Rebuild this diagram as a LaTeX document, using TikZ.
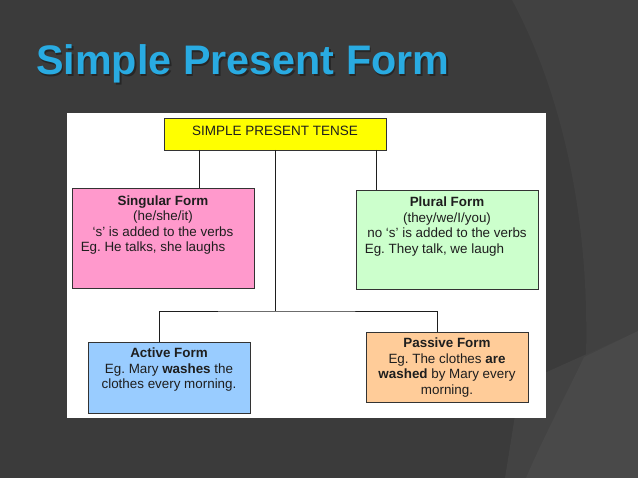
\documentclass[tikz,border=0pt]{standalone}
\usepackage{fontspec}
\setmainfont{Liberation Sans}
\definecolor{bgc}{HTML}{3B3B3B}
\definecolor{bgl}{HTML}{414141}
\definecolor{bgm}{HTML}{434343}
\definecolor{bgx}{HTML}{494949}
\definecolor{titlec}{RGB}{41,171,226}
\definecolor{bline}{HTML}{333333}
\definecolor{txt}{HTML}{1E1E1E}
\definecolor{yelc}{HTML}{FFFF00}
\definecolor{pinkc}{HTML}{FF99CC}
\definecolor{greenc}{HTML}{CCFFCC}
\definecolor{bluec}{HTML}{99CCFF}
\definecolor{orangec}{HTML}{FFCC99}
\newcommand{\boxtext}[4]{\parbox[t][#2][t]{#1}{\centering\frenchspacing\fontsize{13.4}{15.5}\selectfont\rule{0pt}{#3}#4}}
\begin{document}
\begin{tikzpicture}[x=1pt,y=-1pt,
  box/.style={draw=bline, line width=0.8pt, inner sep=0pt, outer sep=0pt, anchor=north west, text=txt},
  conn/.style={draw=txt, line width=0.8pt}]
\useasboundingbox (0,0) rectangle (638,478);
% background
\fill[bgc] (0,0) rectangle (638,478);
\fill[bgl] (512,0) .. controls (555,80) and (590,200) .. (586,357) -- (638,332) -- (638,0) -- cycle;
\fill[bgm] (520,384) -- (638,331) -- (638,478) -- (505,478) -- cycle;
\fill[bgx] (584,357) .. controls (566,395) and (542,440) .. (526,478) -- (638,478) -- (638,331) -- cycle;
% title
\node[anchor=base west, inner sep=0pt, text=black!85, font=\bfseries\fontsize{41.3}{50}\selectfont] (tshadow) at (37.5,76.5) {Simple Present Form};
\node[anchor=base west, inner sep=0pt, text=titlec, font=\bfseries\fontsize{41.3}{50}\selectfont] (title) at (36,75) {Simple Present Form};
% panel
\fill[white] (67,113) rectangle (546,418);
% boxes
\node[box, fill=yelc] (yel) at (164,118) {\parbox[t][32pt][t]{222pt}{\centering\fontsize{13.5}{15}\selectfont\rule{0pt}{18pt}SIMPLE PRESENT TENSE}};
\node[box, fill=pinkc] (sing) at (72,188) {\boxtext{182pt}{100pt}{17.5pt}{\textbf{Singular Form}\\(he/she/it)\\‘s’ is added to the verbs\\Eg. He talks, she laughs\hspace{20pt}\mbox{}}};
\node[box, fill=greenc] (plu) at (356,190) {\boxtext{182pt}{99pt}{17pt}{\textbf{Plural Form}\\(they/we/I/you)\\no ‘s’ is added to the verbs\\Eg. They talk, we laugh\hspace{25pt}\mbox{}}};
\node[box, fill=bluec] (act) at (88,342) {\boxtext{162pt}{71pt}{16pt}{\textbf{Active Form}\\Eg. Mary \textbf{washes} the\\clothes every morning.}};
\node[box, fill=orangec] (pas) at (366,332) {\boxtext{162pt}{70pt}{16pt}{\textbf{Passive Form}\\Eg. The clothes \textbf{are}\\\textbf{washed} by Mary every\\morning.}};
% connectors
\coordinate (j) at (275,311);
\draw[conn] ([xshift=-76pt]yel.south) -- ([xshift=-76pt]yel.south |- sing.north);
\draw[conn] ([xshift=101pt]yel.south) -- ([xshift=101pt]yel.south |- plu.north);
\draw[conn] (yel.south) -- (j);
\draw[conn] ([xshift=-10pt]act.north) |- (j) -| ([xshift=-10pt]pas.north);
\end{tikzpicture}
\end{document}
